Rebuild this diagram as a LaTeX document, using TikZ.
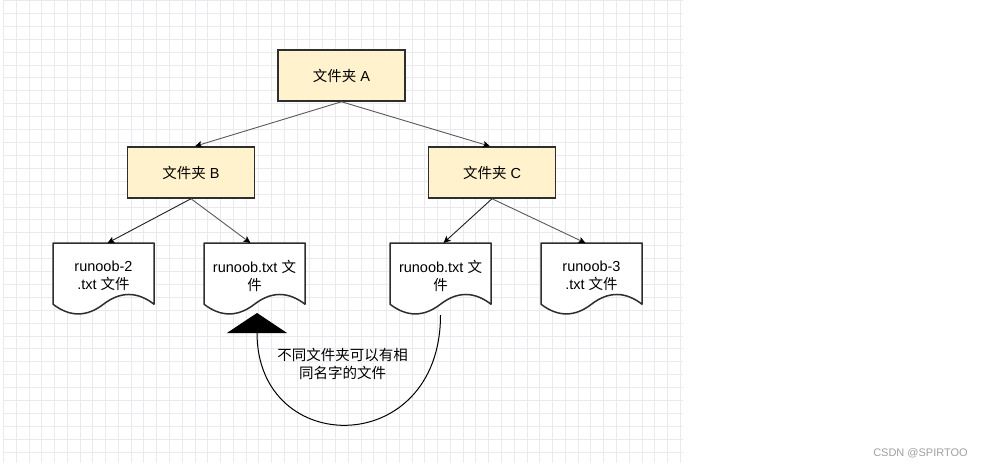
\documentclass[tikz,border=0pt]{standalone}
\usepackage{fontspec}
\setmainfont{Liberation Sans}
\newfontfamily\cjk{Noto Sans CJK SC}
\newcommand{\zhtext}[1]{{\cjk #1}}
\usetikzlibrary{arrows.meta,calc}
\definecolor{boxfill}{HTML}{FFF2CC}
\definecolor{boxline}{HTML}{2E2E2E}
\definecolor{gridline}{HTML}{E9E9EF}
\definecolor{markgray}{HTML}{A0A0A0}
\tikzset{
  folder/.style={draw=boxline, fill=boxfill, line width=1.5pt, minimum width=127pt, minimum height=51pt, inner sep=0pt, font=\fontsize{14.5}{18}\selectfont},
  docnode/.style={draw=none, minimum width=101pt, minimum height=66pt, inner sep=0pt, outer sep=0pt, align=center, font=\fontsize{14.5}{18}\selectfont},
  docline/.style={draw=boxline, line width=1.5pt, fill=white, line join=round},
  conn/.style={draw=black!65, line width=0.9pt, -{Stealth[length=7pt,width=6.5pt,inset=1.5pt,fill=black,color=black]}},
  conndark/.style={conn, draw=black!88},
  noteline/.style={draw=black, line width=1pt, -{Triangle[length=20pt,width=60pt,fill=black]}},
  notetext/.style={align=center, inner sep=0pt, font=\fontsize{14.5}{18}\selectfont}
}
\begin{document}
\begin{tikzpicture}[x=1pt,y=-1pt]
\useasboundingbox (0,0) rectangle (984,468);
\fill[white] (0,0) rectangle (984,468);
% grid
\foreach \k in {0,...,53} {
  \draw[gridline, line width=0.6pt] ({3.3+\k*12.77},0) -- ({3.3+\k*12.77},463);
}
\foreach \k in {0,...,35} {
  \draw[gridline, line width=0.6pt] (3,{0.4+\k*12.9}) -- (683,{0.4+\k*12.9});
}
% folders
\node[folder] (A) at (341.5,75.5) {\zhtext{文件夹} A};
\node[folder] (B) at (191,172.5) {\zhtext{文件夹} B};
\node[folder] (C) at (492,172.5) {\zhtext{文件夹} C};
% documents
\node[docnode] (d1) at (103.5,276) {};
\node[docnode] (d2) at (254.5,276) {};
\node[docnode] (d3) at (440.5,276) {};
\node[docnode] (d4) at (591.5,276) {};
\foreach \n in {d1,d2,d3,d4} {
  \draw[docline] (\n.north west) -- (\n.north east) -- ($(\n.north east)+(0,61.2)$)
    .. controls +(-16.83,-12.96) and +(16.83,-12.96) .. ($(\n.north west)+(50.5,61.2)$)
    .. controls +(-16.83,12.96) and +(16.83,12.96) .. ($(\n.north west)+(0,61.2)$) -- cycle;
}
\node[docnode] at (d1) {runoob-2\\.txt \zhtext{文件}};
\node[docnode] at (d2) {runoob.txt \zhtext{文}\\\zhtext{件}};
\node[docnode] at (d3) {runoob.txt \zhtext{文}\\\zhtext{件}};
\node[docnode] at (d4) {runoob-3\\.txt \zhtext{文件}};
% connectors
\draw[conn] (A.south) -- ([xshift=4pt]B.north);
\draw[conn] (A.south) -- ([xshift=-2pt]C.north);
\draw[conndark] (B.south) -- ([xshift=4pt]d1.north);
\draw[conn] (B.south) -- ([xshift=-4pt]d2.north);
\draw[conndark] (C.south) -- ([xshift=3pt]d3.north);
\draw[conn] (C.south) -- ([xshift=-6pt]d4.north);
% curved note arrow
\draw[noteline] ([yshift=-6pt]d3.south) .. controls +(0,144) and +(0,146) .. ([xshift=2.5pt,yshift=-4pt]d2.south);
\node[notetext] (note) at (342.5,364) {\zhtext{不同文件夹可以有相}\\\zhtext{同名字的文件}};
% watermark
\node[text=markgray, font=\fontsize{11}{13}\selectfont, inner sep=0pt] (mark) at (920.5,453) {CSDN @SPIRTOO};
\end{tikzpicture}
\end{document}
